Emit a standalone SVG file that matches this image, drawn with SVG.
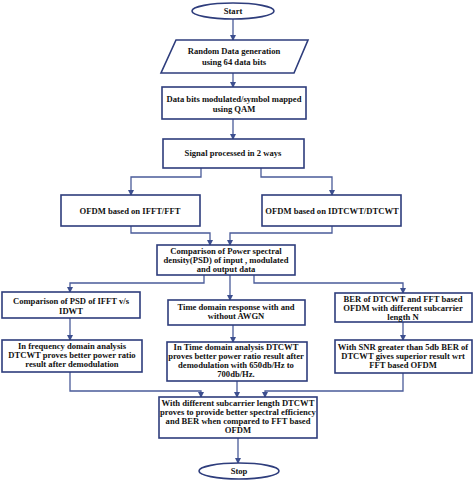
<svg xmlns="http://www.w3.org/2000/svg" width="474" height="480" viewBox="0 0 474 480">
<defs>
<marker id="ah" markerWidth="6" markerHeight="6" refX="5" refY="3" orient="auto" markerUnits="userSpaceOnUse">
<path d="M0,0 L6,3 L0,6 Z" fill="#3d4f8f"/>
</marker>
<style>
.n{fill:#fff;stroke:#2e3d7c;stroke-width:1.6}
.c{fill:none;stroke:#4a5b99;stroke-width:1.3;marker-end:url(#ah)}
text{font-family:"Liberation Serif","Times New Roman",serif;font-weight:bold;font-size:8.6px;fill:#111;text-anchor:middle}
</style>
</defs>
<rect width="474" height="480" fill="#fff"/>
<g id="connectors">
<path class="c" d="M233,19 V40"/>
<path class="c" d="M233,73 V87"/>
<path class="c" d="M233,119 V139"/>
<path class="c" d="M201,168 V177 H131 V195"/>
<path class="c" d="M261,168 V177 H332 V195"/>
<path class="c" d="M131,226 V233 H210 V245"/>
<path class="c" d="M332,226 V233 H230 V245"/>
<path class="c" d="M204,275 V283 H70 V292"/>
<path class="c" d="M230,275 V300"/>
<path class="c" d="M254,275 V283 H403 V293"/>
<path class="c" d="M70,318 V340"/>
<path class="c" d="M233,325 V342"/>
<path class="c" d="M403,322 V340"/>
<path class="c" d="M70,372 V391 H201 V397"/>
<path class="c" d="M237,381 V397"/>
<path class="c" d="M403,373 V391 H265 V397"/>
<path class="c" d="M238,438 V463"/>
</g>
<g id="start">
<ellipse class="n" cx="233" cy="11" rx="41" ry="8"/>
<text x="233" y="14">Start</text>
</g>
<g id="random">
<polygon class="n" points="176,40 308,40 294,73 161,73"/>
<text x="234" y="54">Random Data generation</text>
<text x="234" y="65">using 64 data bits</text>
</g>
<g id="qam">
<rect class="n" x="162" y="87" width="144" height="32"/>
<text x="234" y="102">Data bits modulated/symbol mapped</text>
<text x="234" y="112">using QAM</text>
</g>
<g id="signal">
<rect class="n" x="163" y="139" width="141" height="29"/>
<text x="233" y="156">Signal processed in 2 ways</text>
</g>
<g id="ofdm-fft">
<rect class="n" x="61" y="195" width="139" height="31"/>
<text x="130" y="214">OFDM based on IFFT/FFT</text>
</g>
<g id="ofdm-dtcwt">
<rect class="n" x="262" y="195" width="139" height="31"/>
<text x="332" y="214">OFDM based on IDTCWT/DTCWT</text>
</g>
<g id="psd">
<rect class="n" x="157" y="245" width="138" height="30"/>
<text x="226" y="254">Comparison of Power spectral</text>
<text x="226" y="263">density(PSD) of input , modulated</text>
<text x="226" y="272">and output data</text>
</g>
<g id="cmp-psd">
<rect class="n" x="2" y="292" width="138" height="26"/>
<text x="71" y="304">Comparison of PSD of IFFT v/s</text>
<text x="71" y="314">IDWT</text>
</g>
<g id="freq">
<rect class="n" x="2" y="340" width="140" height="32"/>
<text x="72" y="349">In frequency domain analysis</text>
<text x="72" y="358">DTCWT proves better power ratio</text>
<text x="72" y="367">result after demodulation</text>
</g>
<g id="time-resp">
<rect class="n" x="168" y="300" width="137" height="25"/>
<text x="236" y="310">Time domain response with and</text>
<text x="236" y="319">without AWGN</text>
</g>
<g id="time">
<rect class="n" x="167" y="342" width="140" height="39"/>
<text x="236" y="350">In Time domain analysis DTCWT</text>
<text x="236" y="359">proves better power ratio result after</text>
<text x="236" y="368">demodulation with 650db/Hz to</text>
<text x="236" y="377">700db/Hz.</text>
</g>
<g id="ber">
<rect class="n" x="335" y="293" width="137" height="29"/>
<text x="403" y="302">BER of DTCWT and FFT based</text>
<text x="403" y="311">OFDM with different subcarrier</text>
<text x="403" y="320">length N</text>
</g>
<g id="snr">
<rect class="n" x="335" y="340" width="137" height="33"/>
<text x="403" y="350">With SNR greater than 5db BER of</text>
<text x="403" y="359">DTCWT gives superior result wrt</text>
<text x="403" y="368">FFT based OFDM</text>
</g>
<g id="final">
<rect class="n" x="159" y="397" width="158" height="41"/>
<text x="238" y="406">With different subcarrier length DTCWT</text>
<text x="238" y="415">proves to provide better spectral efficiency</text>
<text x="238" y="424">and BER when compared to FFT based</text>
<text x="238" y="433">OFDM</text>
</g>
<g id="stop">
<ellipse class="n" cx="239" cy="471" rx="40" ry="8"/>
<text x="239" y="474">Stop</text>
</g>
</svg>
